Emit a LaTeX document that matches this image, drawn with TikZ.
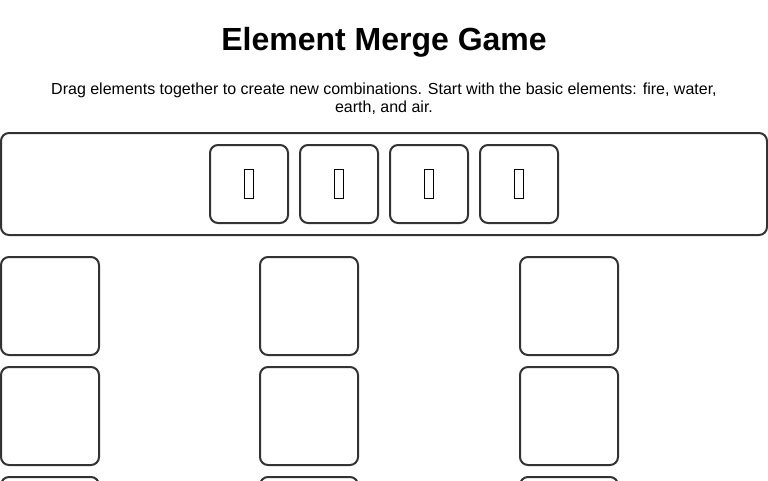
\documentclass[tikz,border=0pt]{standalone}
\usepackage{fontspec}
\setmainfont{Liberation Sans}
\begin{document}
\begin{tikzpicture}[x=0.75pt,y=-0.75pt,
  box/.style={draw=black!80,line width=1.5pt,rounded corners=6pt},
  tofu/.style={draw=black,line width=0.6pt,minimum width=7pt,minimum height=22pt,inner sep=0pt}]
\useasboundingbox (0,0) rectangle (768,480);
\clip (0,0) rectangle (768,480);
\node[font=\bfseries\fontsize{24pt}{28pt}\selectfont] (title) at (384,42) {Element Merge Game};
\node[font=\fontsize{12pt}{13.5pt}\selectfont,align=center] (sub) at (384,99) {Drag elements together to create new combinations. Start with the basic elements: fire, water,\\earth, and air.};
\draw[box] (1,133) rectangle (767,235);
\foreach \x/\n in {210/a,300/b,390/c,480/d}{
  \draw[box] (\x,145) rectangle ++(78,78);
  \node[tofu] (t\n) at (\x+39,184) {};
}
\foreach \x in {1,260,520}{
  \foreach \y in {257,367,477}{
    \draw[box] (\x,\y) rectangle ++(98,98);
  }
}
\end{tikzpicture}
\end{document}
